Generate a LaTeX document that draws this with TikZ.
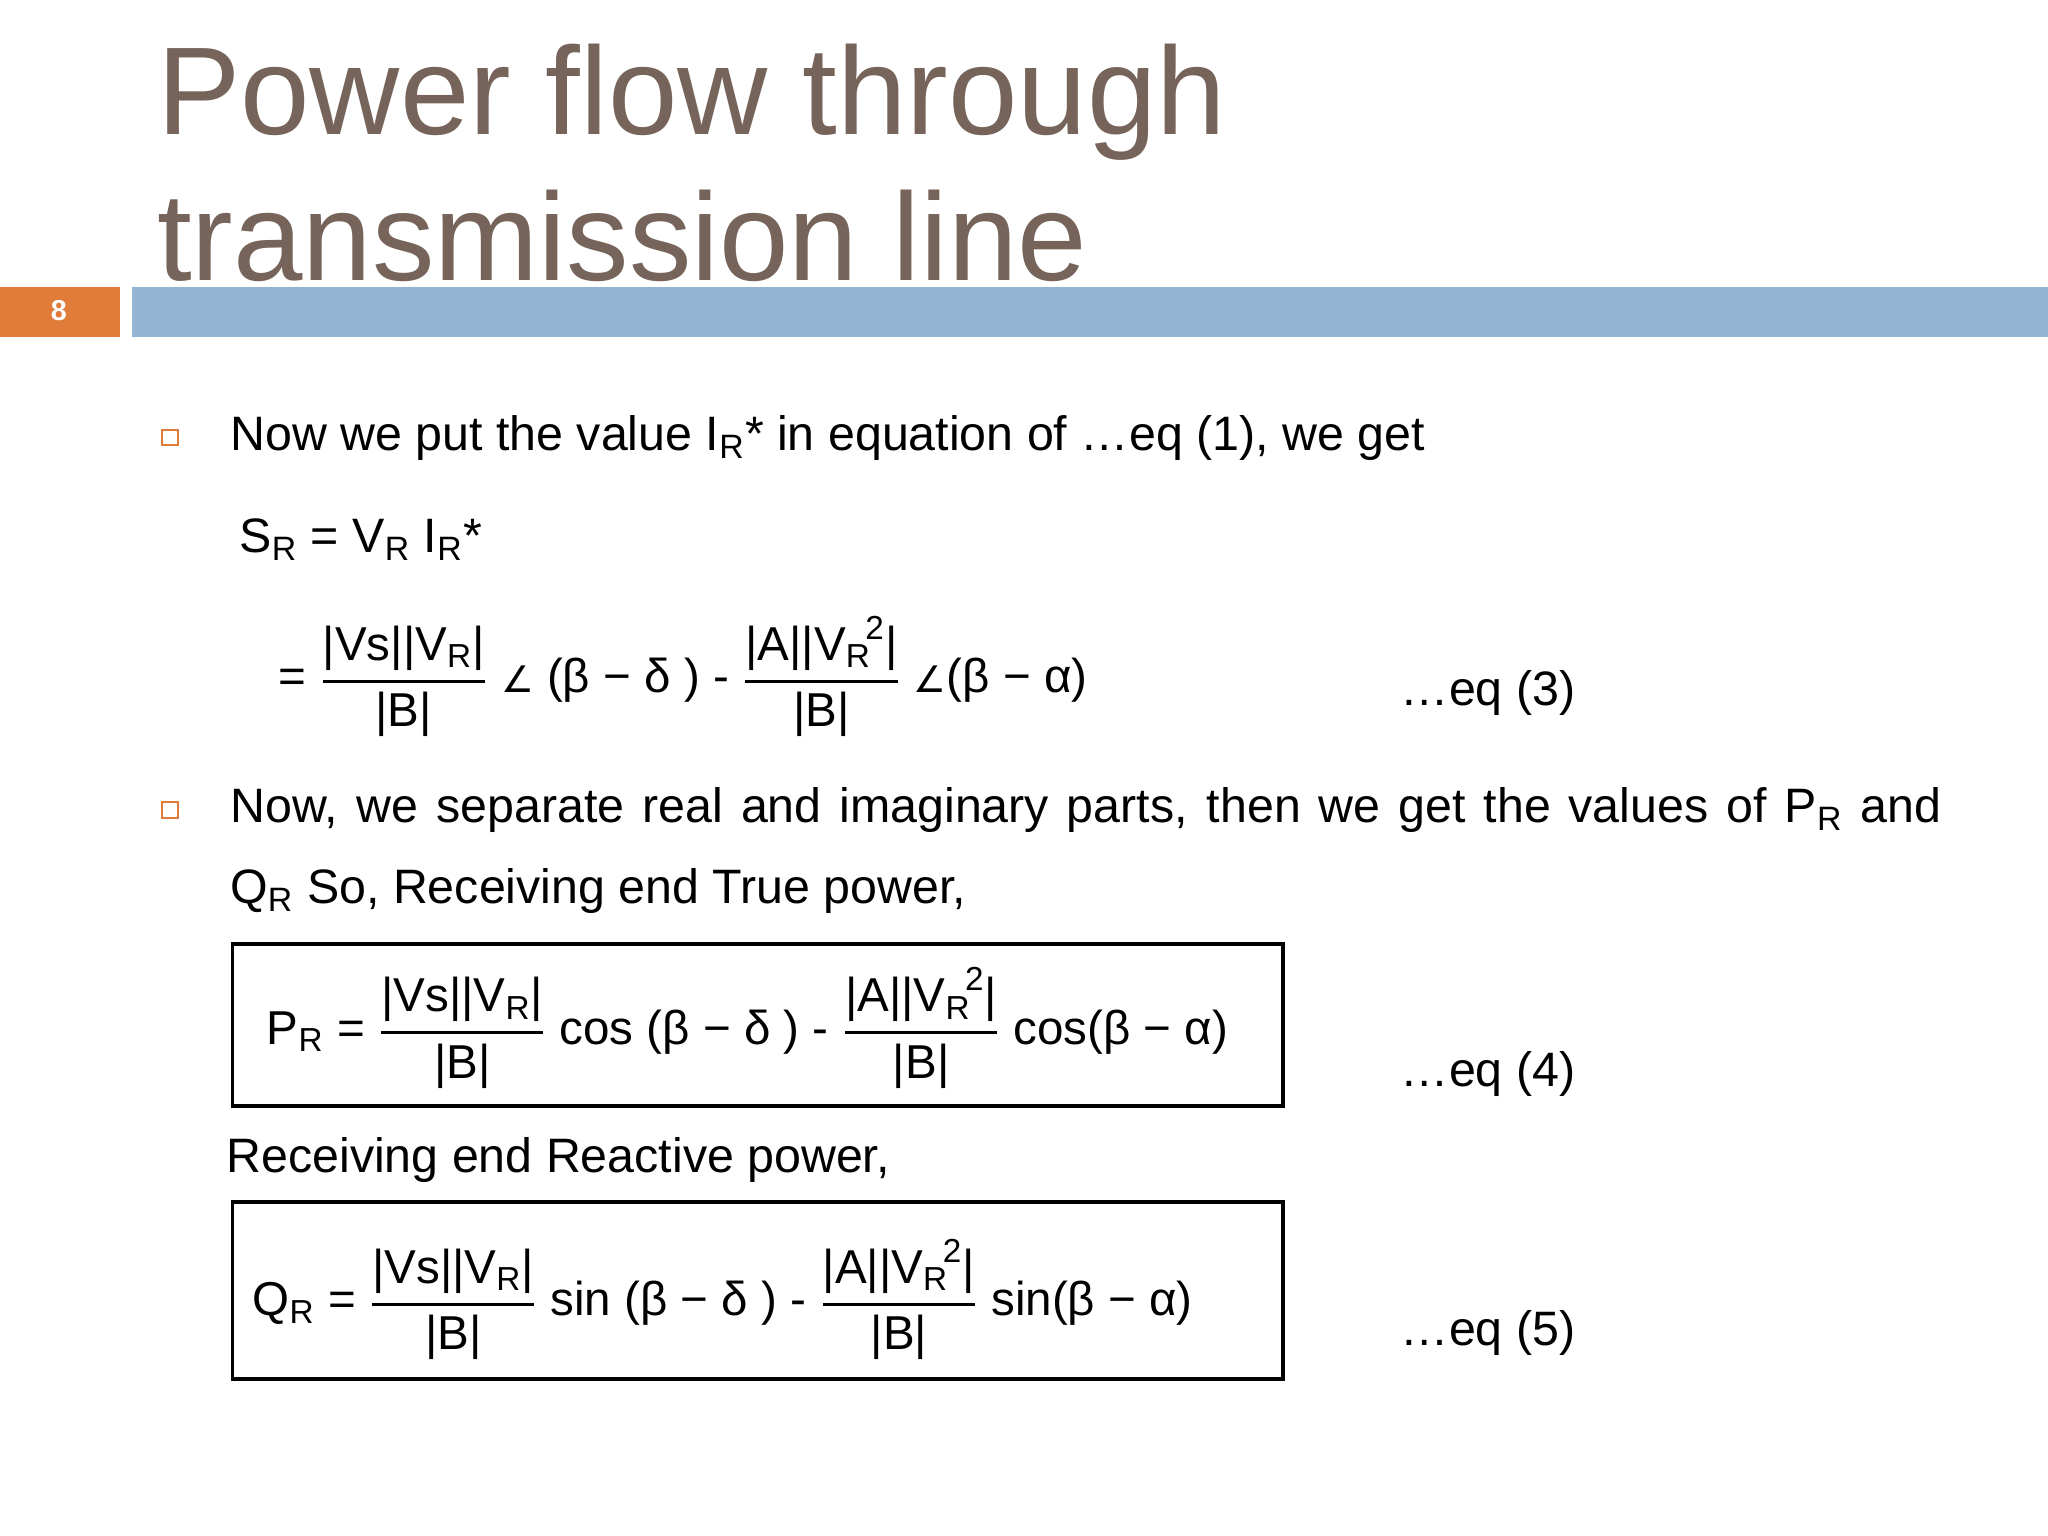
\documentclass[tikz,border=0pt]{standalone}
\usepackage{amsmath}
\usepackage{fontspec}
\setmainfont{Liberation Sans}
\newfontfamily\dvs{DejaVu Sans}
\definecolor{titlec}{HTML}{76645A}
\definecolor{orangebar}{HTML}{E07B39}
\definecolor{bluebar}{HTML}{95B4D2}
\newcommand\sR{\textsubscript{R}}
\newcommand\sRt{\textsubscript{R}\hspace{-0.12em}\raisebox{0.1em}{\textsuperscript{2}}}
\newcommand\fr[2]{\ensuremath{\genfrac{}{}{1.2pt}{0}{\text{#1}}{\text{#2}}}}
\newcommand\ang{{\dvs\fontsize{14}{16}\selectfont\char"2220}}
\tikzset{txt/.style={anchor=base west,inner sep=0pt,font=\fontsize{18.5}{22}\selectfont},
 eqrow/.style={anchor=west,inner sep=0pt,font=\fontsize{18.2}{22}\selectfont},
 bul/.style={draw=orangebar,line width=0.7pt,minimum size=6pt,inner sep=0pt},
 eqbox/.style={draw,line width=1.5pt}}
\begin{document}
\begin{tikzpicture}[x=0.5pt,y=-0.5pt]
\useasboundingbox[fill=white] (0,0) rectangle (1568,1176);
\node[anchor=base west,inner sep=0pt,text=titlec,font=\fontsize{47.8}{56}\selectfont] (t1) at (120,103) {Power flow through};
\node[anchor=base west,inner sep=0pt,text=titlec,font=\fontsize{47.8}{56}\selectfont] (t2) at (120,215) {transmission line};
\fill[orangebar] (0,220) rectangle (92,258);
\node[text=white,font=\bfseries\fontsize{11}{13}\selectfont] (pg) at (45,238) {8};
\fill[bluebar] (101,220) rectangle (1568,258);
\node[bul] (b1) at (130,335) {};
\node[txt] (l1) at (176,345) {Now we put the value I\sR* in equation of \dots eq (1), we get};
\node[txt] (l2) at (183,423) {S\sR\ = V\sR\ I\sR*};
\node[eqrow] (e3) at (213,518) {= \fr{|Vs||V\sR|}{|B|} \ang\ (β − δ ) - \fr{|A||V\sRt|}{|B|} \ang(β − α)};
\node[txt] (q3) at (1072,540) {\dots eq (3)};
\node[bul] (b2) at (130,620) {};
\node[txt] (l3) at (176,630) {\hbox to 655pt{Now, we separate real and imaginary parts, then we get the values of P\sR\ and}};
\node[txt] (l4) at (176,692) {Q\sR\ So, Receiving end True power,};
\draw[eqbox] (178,723) rectangle (982,847);
\node[eqrow] (e4) at (204,787) {P\sR\ = \fr{|Vs||V\sR|}{|B|} cos (β − δ ) - \fr{|A||V\sRt|}{|B|} cos(β − α)};
\node[txt] (q4) at (1072,832) {\dots eq (4)};
\node[txt] (l5) at (173,898) {Receiving end Reactive power,};
\draw[eqbox] (178,920) rectangle (982,1056);
\node[eqrow] (e5) at (193,995) {Q\sR\ = \fr{|Vs||V\sR|}{|B|} sin (β − δ ) - \fr{|A||V\sRt|}{|B|} sin(β − α)};
\node[txt] (q5) at (1072,1030) {\dots eq (5)};
\end{tikzpicture}
\end{document}
